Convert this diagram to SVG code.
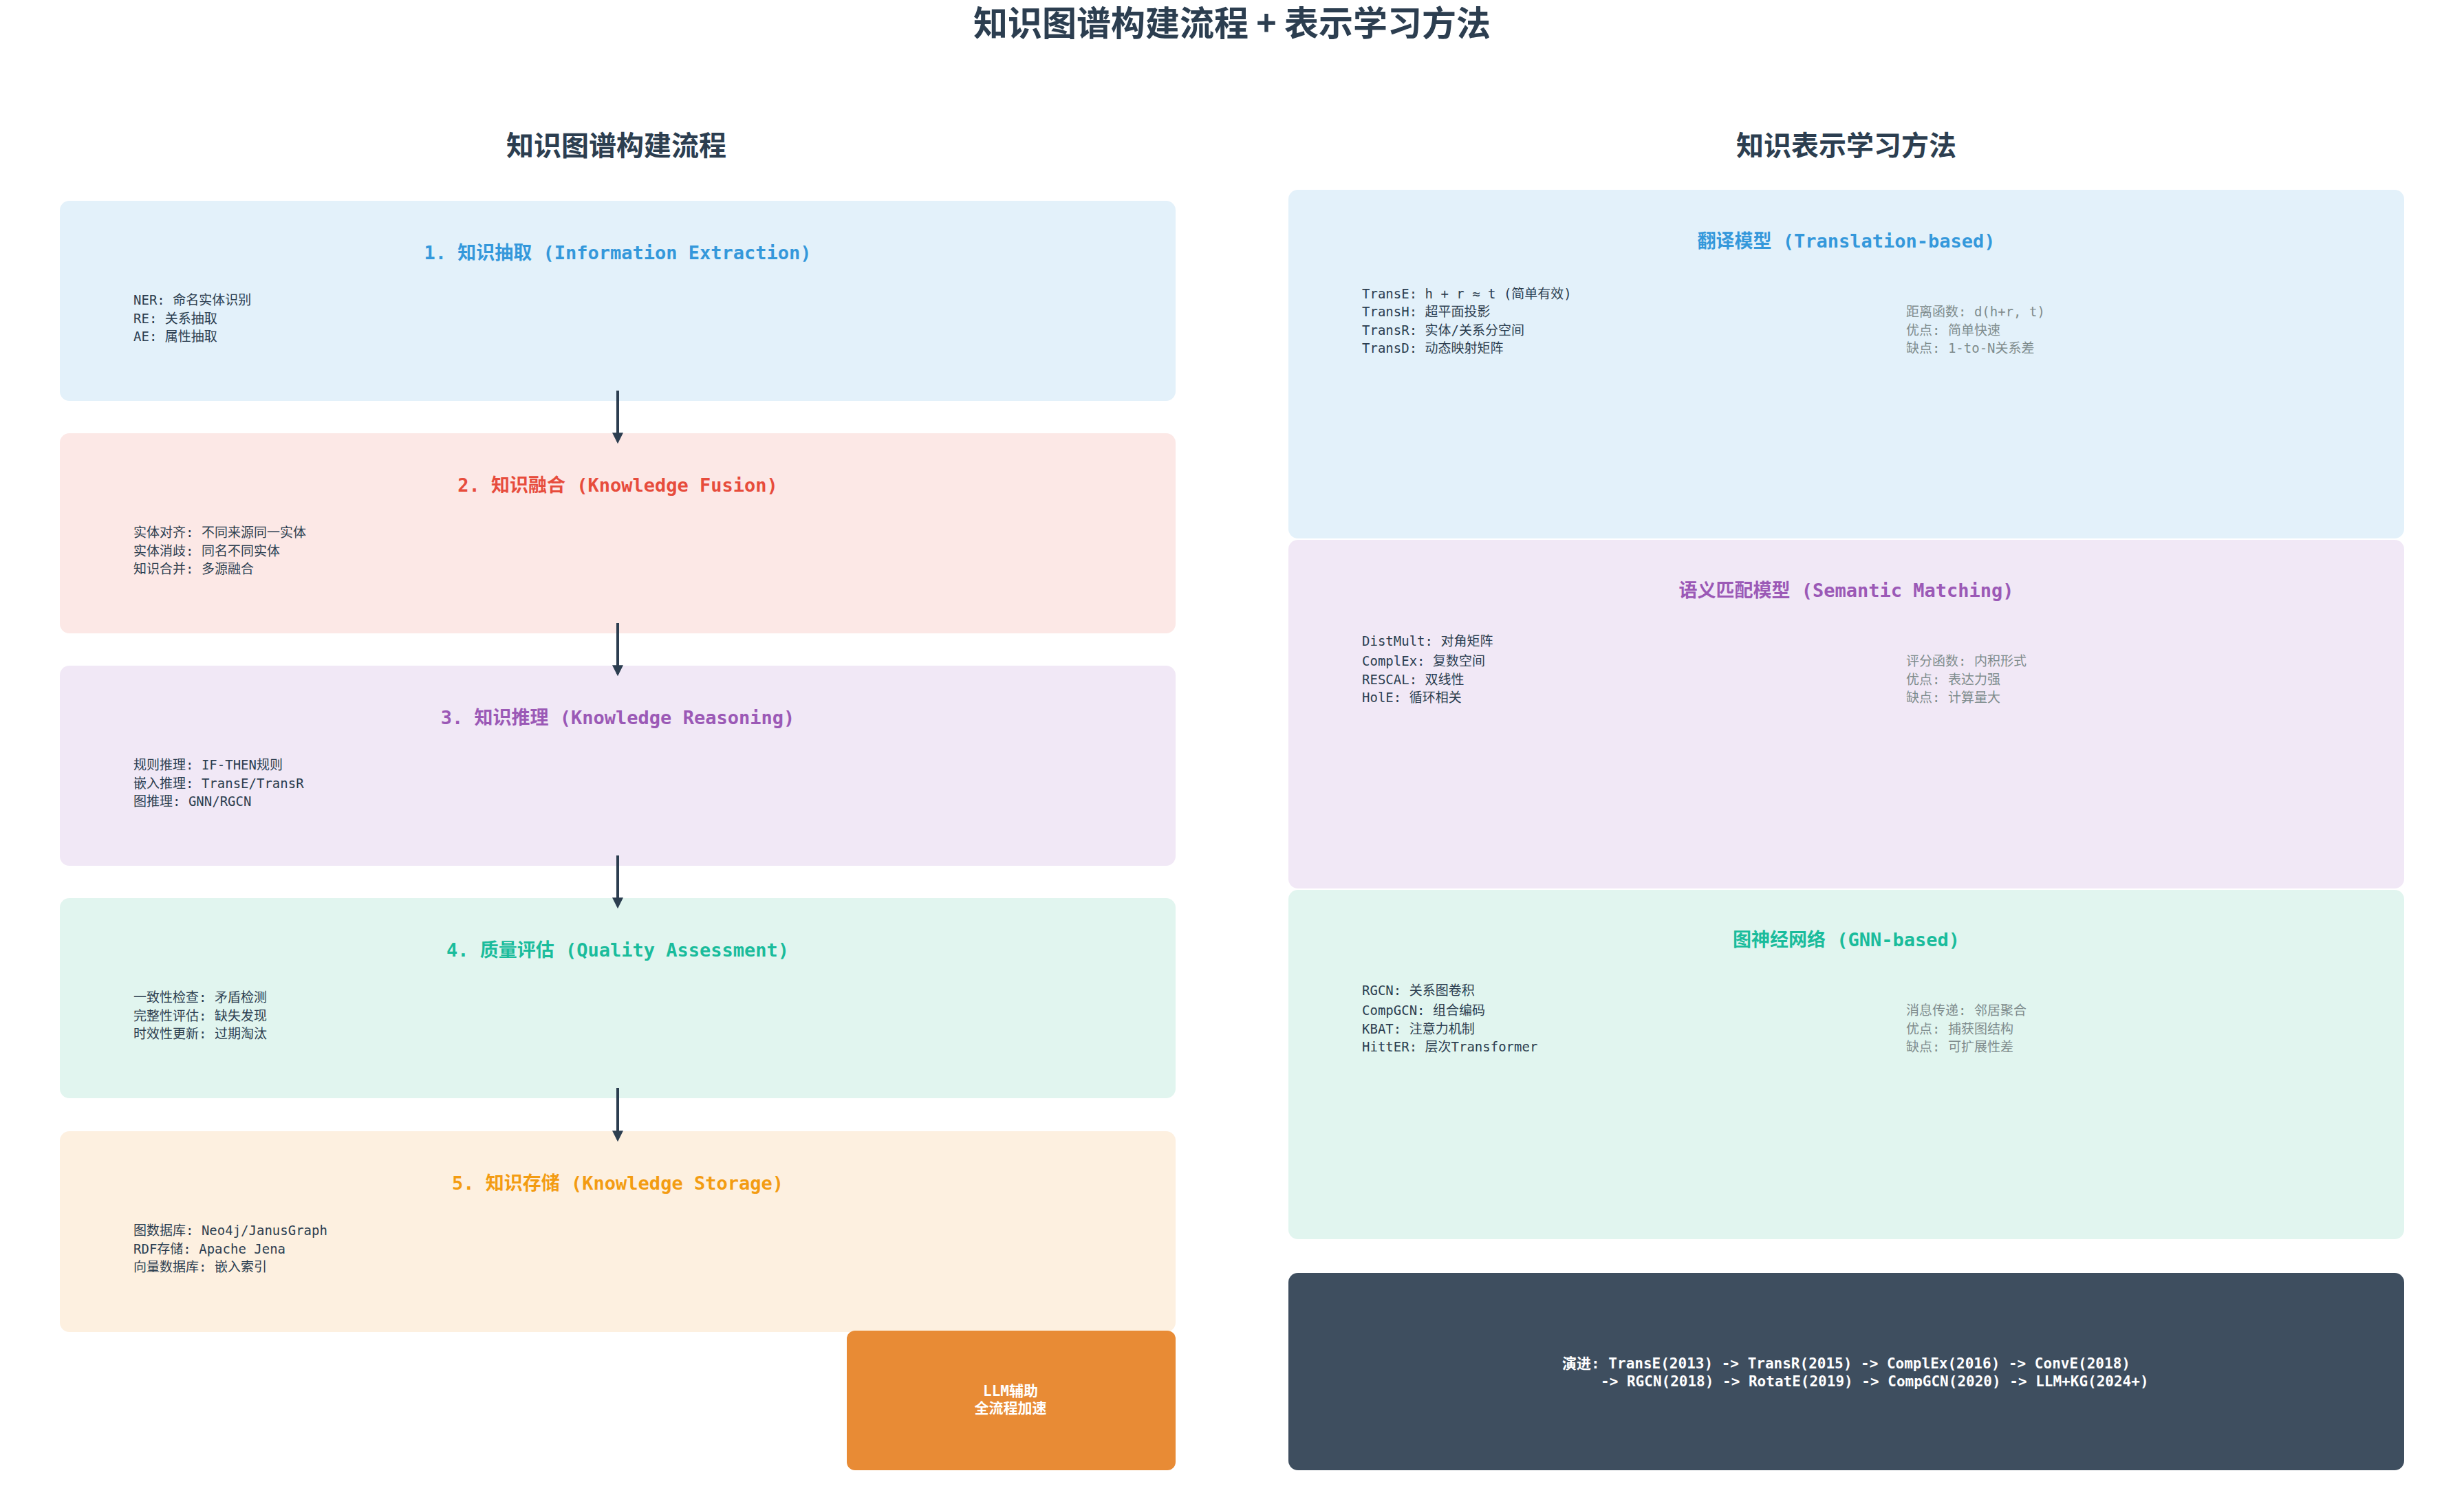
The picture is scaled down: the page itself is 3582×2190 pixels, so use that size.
<svg xmlns="http://www.w3.org/2000/svg" width="3582" height="2190" viewBox="0 0 3582 2190">
<style>
.t{font-family:"DejaVu Sans Mono","Noto Sans CJK SC",monospace}
.h{font-family:"Noto Sans CJK SC",sans-serif;font-weight:bold;fill:#2c3e50;text-anchor:middle}
.bt{font-size:27px;font-weight:bold;text-anchor:middle}
.b{font-size:19px;fill:#2c3e50}
.g{font-size:19px;fill:#7f8c8d}
.w{font-size:21px;fill:#fff;font-weight:bold;text-anchor:middle}
</style>
<defs><marker id="ar" viewBox="0 0 10 10" refX="8" refY="5" markerWidth="4" markerHeight="4" orient="auto"><path d="M0,0L10,5L0,10z" fill="#2c3e50"/></marker></defs>
<rect width="3582" height="2190" fill="#fff"/>
<text class="h" x="1791" y="52" font-size="50">知识图谱构建流程 + 表示学习方法</text>
<text class="h" x="896" y="226" font-size="40">知识图谱构建流程</text>
<text class="h" x="2684" y="226" font-size="40">知识表示学习方法</text>
<g id="s1"><rect x="87" y="292" width="1622" height="291" rx="14" fill="#e3f1fa"/><text class="t bt" x="898" y="377" fill="#3498db">1. 知识抽取 (Information Extraction)</text><text class="t b" x="194" y="443">NER: 命名实体识别</text><text class="t b" x="194" y="470">RE: 关系抽取</text><text class="t b" x="194" y="496">AE: 属性抽取</text></g>
<g id="s2"><rect x="87" y="630" width="1622" height="291" rx="14" fill="#fce8e6"/><text class="t bt" x="898" y="715" fill="#e74c3c">2. 知识融合 (Knowledge Fusion)</text><text class="t b" x="194" y="781">实体对齐: 不同来源同一实体</text><text class="t b" x="194" y="808">实体消歧: 同名不同实体</text><text class="t b" x="194" y="834">知识合并: 多源融合</text></g>
<g id="s3"><rect x="87" y="968" width="1622" height="291" rx="14" fill="#f1e8f6"/><text class="t bt" x="898" y="1053" fill="#9b59b6">3. 知识推理 (Knowledge Reasoning)</text><text class="t b" x="194" y="1119">规则推理: IF-THEN规则</text><text class="t b" x="194" y="1146">嵌入推理: TransE/TransR</text><text class="t b" x="194" y="1172">图推理: GNN/RGCN</text></g>
<g id="s4"><rect x="87" y="1306" width="1622" height="291" rx="14" fill="#e1f5ef"/><text class="t bt" x="898" y="1391" fill="#1abc9c">4. 质量评估 (Quality Assessment)</text><text class="t b" x="194" y="1457">一致性检查: 矛盾检测</text><text class="t b" x="194" y="1484">完整性评估: 缺失发现</text><text class="t b" x="194" y="1510">时效性更新: 过期淘汰</text></g>
<g id="s5"><rect x="87" y="1645" width="1622" height="292" rx="14" fill="#fdf0e0"/><text class="t bt" x="898" y="1730" fill="#f39c12">5. 知识存储 (Knowledge Storage)</text><text class="t b" x="194" y="1796">图数据库: Neo4j/JanusGraph</text><text class="t b" x="194" y="1823">RDF存储: Apache Jena</text><text class="t b" x="194" y="1849">向量数据库: 嵌入索引</text></g>
<g id="llm"><rect x="1231" y="1935" width="478" height="203" rx="12" fill="#e88b35"/><text class="t w" x="1469" y="2030">LLM辅助</text><text class="t w" x="1469" y="2055">全流程加速</text></g>
<g id="r1"><rect x="1873" y="276" width="1622" height="507" rx="14" fill="#e3f1fa"/><text class="t bt" x="2684" y="360" fill="#3498db">翻译模型 (Translation-based)</text><text class="t b" x="1980" y="434">TransE: h + r ≈ t (简单有效)</text><text class="t b" x="1980" y="460">TransH: 超平面投影</text><text class="t b" x="1980" y="487">TransR: 实体/关系分空间</text><text class="t b" x="1980" y="513">TransD: 动态映射矩阵</text><text class="t g" x="2771" y="460">距离函数: d(h+r, t)</text><text class="t g" x="2771" y="487">优点: 简单快速</text><text class="t g" x="2771" y="513">缺点: 1-to-N关系差</text></g>
<g id="r2"><rect x="1873" y="785" width="1622" height="507" rx="14" fill="#f1e8f6"/><text class="t bt" x="2684" y="868" fill="#9b59b6">语义匹配模型 (Semantic Matching)</text><text class="t b" x="1980" y="939">DistMult: 对角矩阵</text><text class="t b" x="1980" y="968">ComplEx: 复数空间</text><text class="t b" x="1980" y="995">RESCAL: 双线性</text><text class="t b" x="1980" y="1021">HolE: 循环相关</text><text class="t g" x="2771" y="968">评分函数: 内积形式</text><text class="t g" x="2771" y="995">优点: 表达力强</text><text class="t g" x="2771" y="1021">缺点: 计算量大</text></g>
<g id="r3"><rect x="1873" y="1294" width="1622" height="508" rx="14" fill="#e1f5ef"/><text class="t bt" x="2684" y="1376" fill="#1abc9c">图神经网络 (GNN-based)</text><text class="t b" x="1980" y="1447">RGCN: 关系图卷积</text><text class="t b" x="1980" y="1476">CompGCN: 组合编码</text><text class="t b" x="1980" y="1503">KBAT: 注意力机制</text><text class="t b" x="1980" y="1529">HittER: 层次Transformer</text><text class="t g" x="2771" y="1476">消息传递: 邻居聚合</text><text class="t g" x="2771" y="1503">优点: 捕获图结构</text><text class="t g" x="2771" y="1529">缺点: 可扩展性差</text></g>
<g id="evo"><rect x="1873" y="1851" width="1622" height="287" rx="14" fill="#3e4e5f"/><text class="t w" x="2684" y="1990" xml:space="preserve">演进: TransE(2013) -&gt; TransR(2015) -&gt; ComplEx(2016) -&gt; ConvE(2018)</text><text class="t w" x="2700" y="2016" xml:space="preserve">    -&gt; RGCN(2018) -&gt; RotatE(2019) -&gt; CompGCN(2020) -&gt; LLM+KG(2024+)</text></g>
<g id="connectors" stroke="#2c3e50" stroke-width="4" marker-end="url(#ar)">
<line x1="898" y1="568" x2="898" y2="642"/><line x1="898" y1="906" x2="898" y2="980"/><line x1="898" y1="1244" x2="898" y2="1318"/><line x1="898" y1="1582" x2="898" y2="1657"/>
</g>
</svg>
